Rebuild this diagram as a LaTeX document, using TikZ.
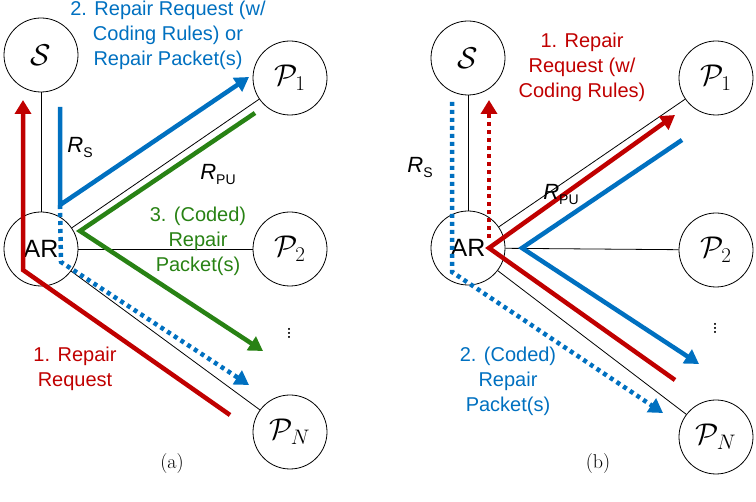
\documentclass[tikz,border=0pt]{standalone}
\usepackage{fix-cm}
\usepackage{fontspec}
\setsansfont{Liberation Sans}
\usetikzlibrary{arrows.meta}
\definecolor{cred}{RGB}{192,0,0}
\definecolor{cblue}{RGB}{0,112,192}
\definecolor{cgreen}{RGB}{40,130,20}
\newcommand{\rlab}[1]{\textit{R}\raisebox{-5pt}{\fontsize{14}{14}\selectfont #1}}
\begin{document}
\begin{tikzpicture}[x=1pt,y=-1pt,
 nd/.style={circle,draw,line width=0.8pt,minimum size=74pt,inner sep=0pt,font=\fontsize{30}{30}\selectfont},
 ar/.style={nd,font=\sffamily\fontsize{25}{25}\selectfont},
 ln/.style={line width=0.8pt},
 fl/.style={line width=4.5pt,-{Triangle[length=14pt,width=16pt]}},
 dt/.style={dash pattern=on 4pt off 4pt},
 lb/.style={font=\sffamily\fontsize{20}{25}\selectfont,align=center},
 rl/.style={font=\sffamily\fontsize{22}{22}\selectfont,inner sep=0pt},
 dd/.style={font=\fontsize{26}{26}\selectfont,inner sep=0pt},
 cp/.style={font=\fontsize{20}{20}\selectfont}]
\useasboundingbox (0,0) rectangle (756,502);
% panel a
\node[nd] (S) at (41,55) {$\mathcal{S}$};
\node[ar] (AR) at (41,249) {AR};
\node[nd] (P1) at (290,78) {$\mathcal{P}_1$};
\node[nd] (P2) at (290,249) {$\mathcal{P}_2$};
\node[nd] (PN) at (290,432) {$\mathcal{P}_N$};
\draw[ln] (S)--(AR); \draw[ln] (AR)--(P1); \draw[ln] (AR)--(P2); \draw[ln] (AR)--(PN);
\coordinate (a1) at (230,415); \coordinate (a2) at (23,270); \coordinate (a3) at (23,100);
\draw[fl,cred] (a1)--(a2)--(a3);
\coordinate (b1) at (60,107); \coordinate (b2) at (60,205); \coordinate (b3) at (249,77);
\draw[fl,cblue] (b1)--(b2)--(b3);
\coordinate (c2) at (61,262); \coordinate (c3) at (249,385);
\draw[fl,cblue,dt] (b2)--(c2)--(c3);
\coordinate (g1) at (255,113); \coordinate (g2) at (80,231); \coordinate (g3) at (263,351);
\draw[fl,cgreen] (g1)--(g2)--(g3);
\node[lb,text=cblue] (la2) at (168,35) {2. Repair Request (w/\\Coding Rules) or\\Repair Packet(s)};
\node[rl] (rsa) at (80,148) {\rlab{S}};
\node[rl] (rpa) at (218,175) {\rlab{PU}};
\node[lb,text=cgreen] (la3) at (198,241) {3. (Coded)\\Repair\\Packet(s)};
\node[lb,text=cred] (la1) at (75,369) {1. Repair\\Request};
\node[dd] (da) at (289,330) {$\vdots$};
\node[cp] (capa) at (172,464) {(a)};
% panel b
\node[nd] (Sb) at (468,58) {$\mathcal{S}$};
\node[ar] (ARb) at (468,248) {AR};
\node[nd] (P1b) at (716,78) {$\mathcal{P}_1$};
\node[nd] (P2b) at (716,250) {$\mathcal{P}_2$};
\node[nd] (PNb) at (716,437) {$\mathcal{P}_N$};
\draw[ln] (Sb)--(ARb); \draw[ln] (ARb)--(P1b); \draw[ln] (ARb)--(P2b); \draw[ln] (ARb)--(PNb);
\coordinate (d1) at (452,102); \coordinate (d2) at (452,272); \coordinate (d3) at (663,413);
\draw[fl,cblue,dt] (d1)--(d2)--(d3);
\coordinate (e1) at (489,238); \coordinate (e2) at (489,100);
\draw[fl,cred,dt] (e1)--(e2);
\coordinate (f1) at (675,380); \coordinate (f2) at (489,248); \coordinate (f3) at (675,115);
\draw[fl,cred] (f1)--(f2)--(f3);
\coordinate (h1) at (682,140); \coordinate (h2) at (522,248); \coordinate (h3) at (699,364);
\draw[fl,cblue] (h1)--(h2)--(h3);
\node[rl] (rsb) at (420,168) {\rlab{S}};
\node[rl] (rpb) at (561,195) {\rlab{PU}};
\node[lb,text=cred] (lb1) at (582,67) {1. Repair\\Request (w/\\Coding Rules)};
\node[lb,text=cblue] (lb2) at (508,381) {2. (Coded)\\Repair\\Packet(s)};
\node[dd] (db) at (715,325) {$\vdots$};
\node[cp] (capb) at (598,464) {(b)};
\end{tikzpicture}
\end{document}
